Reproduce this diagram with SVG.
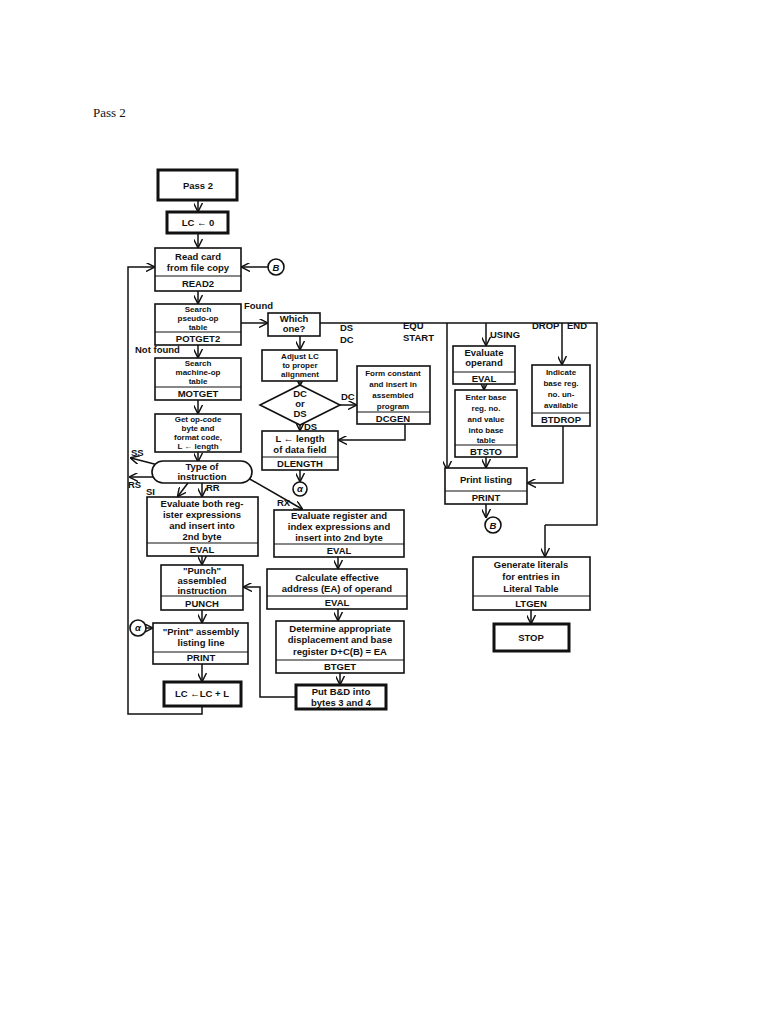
<svg xmlns="http://www.w3.org/2000/svg" width="768" height="1024" viewBox="0 0 768 1024">
<defs>
<marker id="ar" viewBox="0 0 10 10" refX="9" refY="5" markerWidth="6" markerHeight="6" orient="auto"><path d="M0,0 L10,5 L0,10" fill="none" stroke="#111" stroke-width="1.6"/></marker>
</defs>
<style>
.b{fill:#fff;stroke:#111;stroke-width:1.6}
.tb{fill:#fff;stroke:#111;stroke-width:3}
.d{stroke:#111;stroke-width:1.2}
.t{font-family:"Liberation Sans",Arial,sans-serif;font-size:9.5px;font-weight:bold;fill:#111;text-anchor:middle}
.s{font-size:8px}
.l{font-family:"Liberation Sans",Arial,sans-serif;font-size:9.5px;font-weight:bold;fill:#111}
.c{stroke:#111;stroke-width:1.5;fill:none}
.ca{stroke:#111;stroke-width:1.5;fill:none;marker-end:url(#ar)}
</style>
<rect width="768" height="1024" fill="#fff"/>
<text x="93" y="117" font-family="Liberation Serif,serif" font-size="13" fill="#111">Pass 2</text>

<g id="connectors">
<path class="ca" d="M198,200 V211"/>
<path class="ca" d="M198,233 V247"/>
<path class="ca" d="M198,291 V303"/>
<path class="ca" d="M268,267 H242"/>
<path class="ca" d="M202,706 V714 H128 V267 H154"/>
<path class="ca" d="M241,323 H267"/>
<path class="ca" d="M198,345 V357"/>
<path class="ca" d="M198,400 V413"/>
<path class="ca" d="M198,452 V461"/>
<path class="c" d="M320,323 H597 V525 H545"/>
<path class="ca" d="M545,525 V556"/>
<path class="ca" d="M300,323 V349"/>
<path class="ca" d="M447,323 V469"/>
<path class="ca" d="M486,323 V345"/>
<path class="ca" d="M562,323 V364"/>
<path class="ca" d="M300,381 V385"/>
<path class="ca" d="M340,405 H356"/>
<path class="ca" d="M300,425 V430"/>
<path class="ca" d="M405,424 V440 H339"/>
<path class="ca" d="M300,470 V481"/>
<path class="ca" d="M484,384 V389"/>
<path class="ca" d="M486,457 V467"/>
<path class="ca" d="M563,426 V483 H528"/>
<path class="ca" d="M486,504 V517"/>
<path class="ca" d="M162,466 L131,458"/>
<path class="ca" d="M153,477 H130"/>
<path class="ca" d="M188,483 L178,496"/>
<path class="ca" d="M202,483 V496"/>
<path class="ca" d="M248,478 L302,509"/>
<path class="ca" d="M202,556 V564"/>
<path class="ca" d="M202,610 V622"/>
<path class="ca" d="M146,628 H152"/>
<path class="ca" d="M202,664 V681"/>
<path class="ca" d="M338,557 V568"/>
<path class="ca" d="M338,609 V620"/>
<path class="ca" d="M340,673 V684"/>
<path class="ca" d="M296,697 H260 V587 H244"/>
<path class="ca" d="M531,610 V623"/>
</g>

<g id="pass2"><rect class="tb" x="158" y="170" width="79" height="30"/><text class="t" x="198" y="189">Pass 2</text></g>
<g id="lc0"><rect class="tb" x="167" y="212" width="61" height="21"/><text class="t" x="198" y="226">LC ← 0</text></g>
<g id="read2"><rect class="b" x="155" y="248" width="86" height="43"/><line class="d" x1="155" y1="276" x2="241" y2="276"/><text class="t" x="198" y="260">Read card</text><text class="t" x="198" y="271">from file copy</text><text class="t" x="198" y="287">READ2</text></g>
<g id="beta1"><circle class="b" cx="276" cy="267" r="8"/><text class="t" x="276" y="271" font-style="italic">B</text></g>
<g id="potget2"><rect class="b" x="155" y="304" width="86" height="41"/><line class="d" x1="155" y1="332" x2="241" y2="332"/><text class="t s" x="198" y="312">Search</text><text class="t s" x="198" y="321">pseudo-op</text><text class="t s" x="198" y="330">table</text><text class="t" x="198" y="342">POTGET2</text></g>
<text class="l" x="244" y="309">Found</text>
<text class="l" x="135" y="353">Not found</text>
<g id="which"><rect class="b" x="268" y="313" width="52" height="23"/><text class="t" x="294" y="322">Which</text><text class="t" x="294" y="332">one?</text></g>
<text class="l" x="340" y="331">DS</text><text class="l" x="340" y="343">DC</text>
<text class="l" x="403" y="329">EQU</text><text class="l" x="403" y="341">START</text>
<text class="l" x="490" y="338">USING</text>
<text class="l" x="532" y="329">DROP</text><text class="l" x="567" y="329">END</text>
<g id="motget"><rect class="b" x="155" y="358" width="86" height="42"/><line class="d" x1="155" y1="387" x2="241" y2="387"/><text class="t s" x="198" y="366">Search</text><text class="t s" x="198" y="375">machine-op</text><text class="t s" x="198" y="384">table</text><text class="t" x="198" y="397">MOTGET</text></g>
<g id="getop"><rect class="b" x="155" y="414" width="86" height="38"/><text class="t s" x="198" y="422">Get op-code</text><text class="t s" x="198" y="431">byte and</text><text class="t s" x="198" y="440">format code,</text><text class="t s" x="198" y="449">L ← length</text></g>
<g id="adjust"><rect class="b" x="262" y="350" width="75" height="31"/><text class="t s" x="300" y="359">Adjust LC</text><text class="t s" x="300" y="368">to proper</text><text class="t s" x="300" y="377">alignment</text></g>
<g id="dcds"><polygon class="b" points="300,385 340,405 300,425 260,405"/><text class="t" x="300" y="397" font-size="7px">DC</text><text class="t" x="300" y="407" font-size="7px">or</text><text class="t" x="300" y="417" font-size="7px">DS</text></g>
<text class="l" x="341" y="400">DC</text><text class="l" x="304" y="430">DS</text>
<g id="dcgen"><rect class="b" x="357" y="366" width="73" height="58"/><line class="d" x1="357" y1="412" x2="430" y2="412"/><text class="t s" x="393" y="376">Form constant</text><text class="t s" x="393" y="387">and insert in</text><text class="t s" x="393" y="398">assembled</text><text class="t s" x="393" y="409">program</text><text class="t" x="393" y="422">DCGEN</text></g>
<g id="dlength"><rect class="b" x="262" y="431" width="76" height="39"/><line class="d" x1="262" y1="457" x2="338" y2="457"/><text class="t" x="300" y="442">L ← length</text><text class="t" x="300" y="453">of data field</text><text class="t" x="300" y="467">DLENGTH</text></g>
<g id="alpha1"><circle class="b" cx="300" cy="489" r="7"/><text class="t" x="300" y="492" font-style="italic">α</text></g>
<g id="eval1"><rect class="b" x="453" y="346" width="62" height="38"/><line class="d" x1="453" y1="372" x2="515" y2="372"/><text class="t" x="484" y="356">Evaluate</text><text class="t" x="484" y="366">operand</text><text class="t" x="484" y="382">EVAL</text></g>
<g id="btsto"><rect class="b" x="455" y="390" width="62" height="67"/><line class="d" x1="455" y1="445" x2="517" y2="445"/><text class="t s" x="486" y="400">Enter base</text><text class="t s" x="486" y="411">reg. no.</text><text class="t s" x="486" y="422">and value</text><text class="t s" x="486" y="433">into base</text><text class="t s" x="486" y="443">table</text><text class="t" x="486" y="455">BTSTO</text></g>
<g id="btdrop"><rect class="b" x="532" y="365" width="58" height="61"/><line class="d" x1="532" y1="413" x2="590" y2="413"/><text class="t s" x="561" y="375">Indicate</text><text class="t s" x="561" y="386">base reg.</text><text class="t s" x="561" y="397">no. un-</text><text class="t s" x="561" y="408">available</text><text class="t" x="561" y="423">BTDROP</text></g>
<g id="print1"><rect class="b" x="445" y="468" width="82" height="36"/><line class="d" x1="445" y1="491" x2="527" y2="491"/><text class="t" x="486" y="483">Print listing</text><text class="t" x="486" y="501">PRINT</text></g>
<g id="beta2"><circle class="b" cx="493" cy="525" r="8"/><text class="t" x="493" y="529" font-style="italic">B</text></g>
<g id="type"><rect class="b" x="152" y="461" width="100" height="22" rx="11"/><text class="t" x="202" y="470">Type of</text><text class="t" x="202" y="480">instruction</text></g>
<text class="l" x="131" y="456">SS</text><text class="l" x="128" y="488">RS</text><text class="l" x="146" y="495">SI</text><text class="l" x="206" y="491">RR</text><text class="l" x="277" y="506">RX</text>
<g id="evalrr"><rect class="b" x="147" y="497" width="111" height="59"/><line class="d" x1="147" y1="543" x2="258" y2="543"/><text class="t" x="202" y="507">Evaluate both reg-</text><text class="t" x="202" y="518">ister expressions</text><text class="t" x="202" y="529">and insert into</text><text class="t" x="202" y="540">2nd byte</text><text class="t" x="202" y="553">EVAL</text></g>
<g id="evalrx"><rect class="b" x="274" y="510" width="130" height="47"/><line class="d" x1="274" y1="544" x2="404" y2="544"/><text class="t" x="339" y="519">Evaluate register and</text><text class="t" x="339" y="530">index expressions and</text><text class="t" x="339" y="541">insert into 2nd byte</text><text class="t" x="339" y="554">EVAL</text></g>
<g id="punch"><rect class="b" x="161" y="565" width="82" height="45"/><line class="d" x1="161" y1="596" x2="243" y2="596"/><text class="t" x="202" y="574">"Punch"</text><text class="t" x="202" y="584">assembled</text><text class="t" x="202" y="594">instruction</text><text class="t" x="202" y="607">PUNCH</text></g>
<g id="evalea"><rect class="b" x="267" y="569" width="140" height="40"/><line class="d" x1="267" y1="596" x2="407" y2="596"/><text class="t" x="337" y="581">Calculate effective</text><text class="t" x="337" y="592">address (EA) of operand</text><text class="t" x="337" y="606">EVAL</text></g>
<g id="printasm"><rect class="b" x="153" y="623" width="95" height="41"/><line class="d" x1="153" y1="652" x2="248" y2="652"/><text class="t" x="201" y="635">"Print" assembly</text><text class="t" x="201" y="646">listing line</text><text class="t" x="201" y="661">PRINT</text></g>
<g id="alpha2"><circle class="b" cx="138" cy="628" r="8"/><text class="t" x="138" y="631" font-style="italic">α</text></g>
<g id="btget"><rect class="b" x="276" y="621" width="128" height="52"/><line class="d" x1="276" y1="660" x2="404" y2="660"/><text class="t" x="340" y="632">Determine appropriate</text><text class="t" x="340" y="643">displacement and base</text><text class="t" x="340" y="655">register D+C(B) = EA</text><text class="t" x="340" y="670">BTGET</text></g>
<g id="lcl"><rect class="tb" x="164" y="682" width="77" height="24"/><text class="t" x="202" y="697">LC ←LC + L</text></g>
<g id="putbd"><rect class="tb" x="296" y="685" width="90" height="24"/><text class="t" x="341" y="695">Put B&amp;D into</text><text class="t" x="341" y="706">bytes 3 and 4</text></g>
<g id="ltgen"><rect class="b" x="473" y="557" width="117" height="53"/><line class="d" x1="473" y1="596" x2="590" y2="596"/><text class="t" x="531" y="568">Generate literals</text><text class="t" x="531" y="580">for entries in</text><text class="t" x="531" y="592">Literal Table</text><text class="t" x="531" y="607">LTGEN</text></g>
<g id="stop"><rect class="tb" x="494" y="624" width="75" height="27"/><text class="t" x="531" y="641">STOP</text></g>
</svg>
